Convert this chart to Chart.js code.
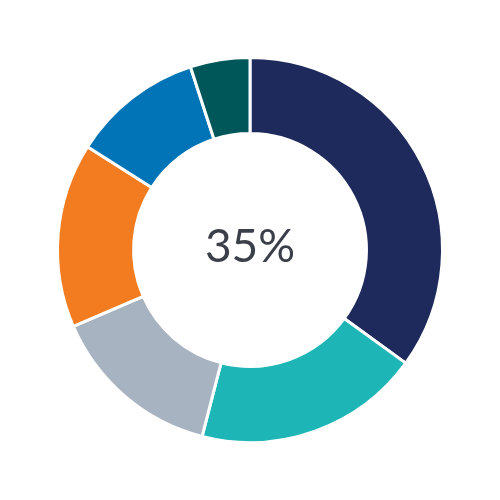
<!DOCTYPE html>
<html>
<head>
<meta charset="utf-8">
<script src="https://cdn.jsdelivr.net/npm/chart.js@4/dist/chart.umd.min.js"></script>
<style>
html,body{margin:0;padding:0;background:#fff;}
#wrap{position:relative;width:500px;height:500px;}
#center{position:absolute;left:0;top:0;width:500px;height:488px;display:flex;align-items:center;justify-content:center;font-family:Lato,sans-serif;font-weight:400;font-size:46px;color:#3b3f4a;pointer-events:none;}
</style>
</head>
<body>
<div id="wrap">
<canvas id="c" width="500" height="500"></canvas>
<div id="center">35%</div>
</div>
<script>
const labels = ["A","B","C","D","E","F"];
const values = [35, 19, 14.5, 15.5, 11, 5];
const colors = ["#1e2a5b","#1db5b6","#a8b3c1","#f37c20","#0074b6","#005759"];
const centerLabel = "35%";
document.getElementById('center').textContent = centerLabel;
new Chart(document.getElementById('c'), {
  type: 'doughnut',
  data: { labels: labels, datasets: [{ data: values, backgroundColor: colors, borderColor: '#ffffff', borderWidth: 3 }] },
  options: {
    responsive: false,
    animation: false,
    cutout: '60.5%',
    layout: { padding: 56 },
    plugins: { legend: { display: false }, tooltip: { enabled: false } }
  }
});
</script>
</body>
</html>
